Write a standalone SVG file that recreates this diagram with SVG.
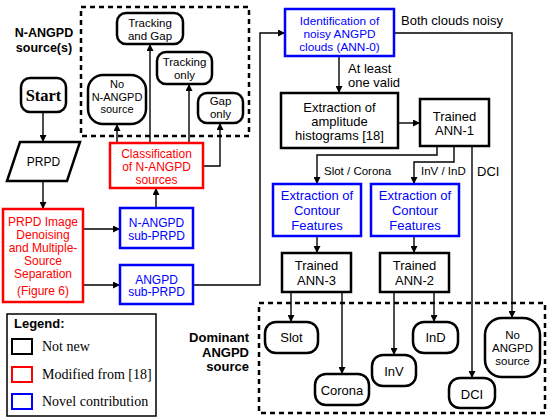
<svg xmlns="http://www.w3.org/2000/svg" width="550" height="420" viewBox="0 0 550 420">
<defs>
<marker id="ah" viewBox="0 0 10 10" refX="10" refY="5" markerWidth="7" markerHeight="7" markerUnits="userSpaceOnUse" orient="auto"><path d="M0,0 L10,5 L0,10 z" fill="#000"/></marker>
<style>
text{font-family:"Liberation Sans",Arial,sans-serif;fill:#000;text-anchor:middle}
.k{fill:#fff;stroke:#000;stroke-width:2.5}
.r{fill:#fff;stroke:#ff0000;stroke-width:2.5}
.b{fill:#fff;stroke:#0000ff;stroke-width:2.5}
.rt{fill:#ff0000}
.bt{fill:#0000ff}
.dash{fill:none;stroke:#000;stroke-width:2.5;stroke-dasharray:5 4}
.c{fill:none;stroke:#000;stroke-width:1.4;marker-end:url(#ah)}
.ln{fill:none;stroke:#000;stroke-width:1.4}
.bold{font-weight:bold}
.serif{font-family:"Liberation Serif","Times New Roman",serif;text-anchor:start}
</style>
</defs>
<rect width="550" height="420" fill="#fff"/>

<g id="regions">
<rect class="dash" x="81" y="7" width="168" height="129"/>
<rect class="dash" x="259" y="303" width="286" height="110"/>
<text class="bold" font-size="12.5" x="44" y="36.5">N-ANGPD</text>
<text class="bold" font-size="12.5" x="44" y="51.5">source(s)</text>
<text class="bold" font-size="13" x="249" y="341.5" style="text-anchor:end">Dominant</text>
<text class="bold" font-size="13" x="249" y="356.5" style="text-anchor:end">ANGPD</text>
<text class="bold" font-size="13" x="249" y="370.5" style="text-anchor:end">source</text>
</g>

<g id="connectors">
<path class="c" d="M43,112 V142"/>
<path class="c" d="M43,181 V209"/>
<path class="c" d="M83,229 H120"/>
<path class="c" d="M83,285 H120"/>
<path class="c" d="M156,208 V188"/>
<path class="c" d="M117,143 V124"/>
<path class="c" d="M150,143 V44"/>
<path class="c" d="M189,143 V84"/>
<path class="c" d="M203,166 H220 V123"/>
<path class="c" d="M193,285 H260 V33 H285"/>
<path class="c" d="M339,56 V93"/>
<path class="c" d="M398,123 H420"/>
<path class="c" d="M437,146 V155 H317 V184"/>
<path class="c" d="M454,146 V162 H414 V184"/>
<path class="c" d="M472,146 V378"/>
<path class="c" d="M394,33 H512 V318"/>
<path class="c" d="M317,236 V253"/>
<path class="c" d="M414,236 V253"/>
<path class="c" d="M291,292 V322"/>
<path class="c" d="M342,292 V374"/>
<path class="c" d="M394,292 V355"/>
<path class="c" d="M434,292 V322"/>
<text font-size="13" x="348" y="72.5" style="text-anchor:start">At least</text>
<text font-size="13" x="348" y="86.5" style="text-anchor:start">one valid</text>
<text font-size="13" x="401" y="24.5" style="text-anchor:start">Both clouds noisy</text>
<text font-size="11.5" x="324" y="175" style="text-anchor:start">Slot / Corona</text>
<text font-size="11.5" x="421" y="175" style="text-anchor:start">InV / InD</text>
<text font-size="13" x="477" y="175.5" style="text-anchor:start">DCI</text>
</g>

<g id="start">
<rect class="k" x="21" y="78" width="45" height="34" rx="9"/>
<text class="bold" font-size="16.5" x="43.5" y="100.5" style="font-family:'Liberation Serif','Times New Roman',serif">Start</text>
</g>
<g id="prpd">
<path class="k" d="M20,142 H80 L67,181 H7 Z"/>
<text font-size="12" x="43.5" y="165.5">PRPD</text>
</g>
<g id="denoise">
<rect class="r" x="3" y="209" width="80" height="93"/>
<text class="rt" font-size="12" x="43" y="226">PRPD Image</text>
<text class="rt" font-size="12" x="43" y="239">Denoising</text>
<text class="rt" font-size="12" x="43" y="252">and Multiple-</text>
<text class="rt" font-size="12" x="43" y="265">Source</text>
<text class="rt" font-size="12" x="43" y="277.5">Separation</text>
<text class="rt" font-size="12" x="43" y="295">(Figure 6)</text>
</g>
<g id="nangpd-sub">
<rect class="b" x="120" y="208" width="73" height="40"/>
<text class="bt" font-size="12" x="156.5" y="227">N-ANGPD</text>
<text class="bt" font-size="12" x="156.5" y="239.5">sub-PRPD</text>
</g>
<g id="angpd-sub">
<rect class="b" x="120" y="265" width="73" height="39"/>
<text class="bt" font-size="12" x="156.5" y="283.5">ANGPD</text>
<text class="bt" font-size="12" x="156.5" y="296">sub-PRPD</text>
</g>
<g id="classification">
<rect class="r" x="110" y="143" width="93" height="45"/>
<text class="rt" font-size="12" x="156.5" y="157.5">Classification</text>
<text class="rt" font-size="12" x="156.5" y="170.5">of N-ANGPD</text>
<text class="rt" font-size="12" x="156.5" y="183.5">sources</text>
</g>
<g id="no-nangpd">
<rect class="k" x="88" y="75" width="58" height="49" rx="15"/>
<text font-size="11" x="117" y="88">No</text>
<text font-size="11" x="117" y="101">N-ANGPD</text>
<text font-size="11" x="117" y="113">source</text>
</g>
<g id="tracking-gap">
<rect class="k" x="117" y="13" width="66" height="31" rx="9"/>
<text font-size="11.5" x="150" y="27">Tracking</text>
<text font-size="11.5" x="150" y="40">and Gap</text>
</g>
<g id="tracking-only">
<rect class="k" x="157" y="52" width="55" height="32" rx="9"/>
<text font-size="11.5" x="184.5" y="66">Tracking</text>
<text font-size="11.5" x="184.5" y="79">only</text>
</g>
<g id="gap-only">
<rect class="k" x="198" y="93" width="45" height="30" rx="9"/>
<text font-size="11.5" x="220.5" y="105">Gap</text>
<text font-size="11.5" x="220.5" y="118">only</text>
</g>
<g id="identification">
<rect class="b" x="285" y="9" width="109" height="47"/>
<text class="bt" font-size="11.8" x="339.5" y="24.5">Identification of</text>
<text class="bt" font-size="11.8" x="339.5" y="37.5">noisy ANGPD</text>
<text class="bt" font-size="11.8" x="339.5" y="50.5">clouds (ANN-0)</text>
</g>
<g id="amplitude">
<rect class="k" x="281" y="93" width="117" height="55"/>
<text font-size="13" x="339.5" y="111.5">Extraction of</text>
<text font-size="13" x="339.5" y="125.5">amplitude</text>
<text font-size="13" x="339.5" y="139.5">histograms [18]</text>
</g>
<g id="ann1">
<rect class="k" x="420" y="99" width="69" height="47"/>
<text font-size="13" x="454.5" y="120.5">Trained</text>
<text font-size="13" x="454.5" y="134.5">ANN-1</text>
</g>
<g id="contour1">
<rect class="b" x="273" y="184" width="88" height="52"/>
<text class="bt" font-size="13" x="317" y="199.5">Extraction of</text>
<text class="bt" font-size="13" x="317" y="214.5">Contour</text>
<text class="bt" font-size="13" x="317" y="229.5">Features</text>
</g>
<g id="contour2">
<rect class="b" x="371" y="184" width="88" height="52"/>
<text class="bt" font-size="13" x="415" y="199.5">Extraction of</text>
<text class="bt" font-size="13" x="415" y="214.5">Contour</text>
<text class="bt" font-size="13" x="415" y="229.5">Features</text>
</g>
<g id="ann3">
<rect class="k" x="282" y="253" width="69" height="39"/>
<text font-size="13" x="316.5" y="269.5">Trained</text>
<text font-size="13" x="316.5" y="284.5">ANN-3</text>
</g>
<g id="ann2">
<rect class="k" x="380" y="253" width="69" height="39"/>
<text font-size="13" x="414.5" y="269.5">Trained</text>
<text font-size="13" x="414.5" y="284.5">ANN-2</text>
</g>
<g id="slot">
<rect class="k" x="265" y="322" width="53" height="31" rx="11"/>
<text font-size="13" x="291.5" y="341.5">Slot</text>
</g>
<g id="corona">
<rect class="k" x="315" y="374" width="54" height="31" rx="11"/>
<text font-size="13" x="342" y="394.5">Corona</text>
</g>
<g id="inv">
<rect class="k" x="372" y="355" width="44" height="31" rx="11"/>
<text font-size="13" x="394" y="375.5">InV</text>
</g>
<g id="ind">
<rect class="k" x="413" y="322" width="45" height="31" rx="11"/>
<text font-size="13" x="435.5" y="341.5">InD</text>
</g>
<g id="dci">
<rect class="k" x="449" y="378" width="46" height="30" rx="11"/>
<text font-size="13" x="472" y="398.5">DCI</text>
</g>
<g id="no-angpd">
<rect class="k" x="485" y="318" width="55" height="59" rx="17"/>
<text font-size="11.5" x="512.5" y="339">No</text>
<text font-size="11.5" x="512.5" y="352">ANGPD</text>
<text font-size="11.5" x="512.5" y="365">source</text>
</g>

<g id="legend">
<rect x="7" y="314" width="149" height="102" fill="#fff" stroke="#000" stroke-width="1.5"/>
<text class="bold" font-size="13" x="14" y="328" style="text-anchor:start">Legend:</text>
<rect x="12" y="339" width="20" height="15" fill="#fff" stroke="#000" stroke-width="2"/>
<rect x="12" y="367" width="20" height="15" fill="#fff" stroke="#ff0000" stroke-width="2"/>
<rect x="12" y="394" width="20" height="15" fill="#fff" stroke="#0000ff" stroke-width="2"/>
<text class="serif" font-size="14" x="42" y="351">Not new</text>
<text class="serif" font-size="14" x="42" y="379">Modified from [18]</text>
<text class="serif" font-size="14" x="42" y="406">Novel contribution</text>
</g>
</svg>
